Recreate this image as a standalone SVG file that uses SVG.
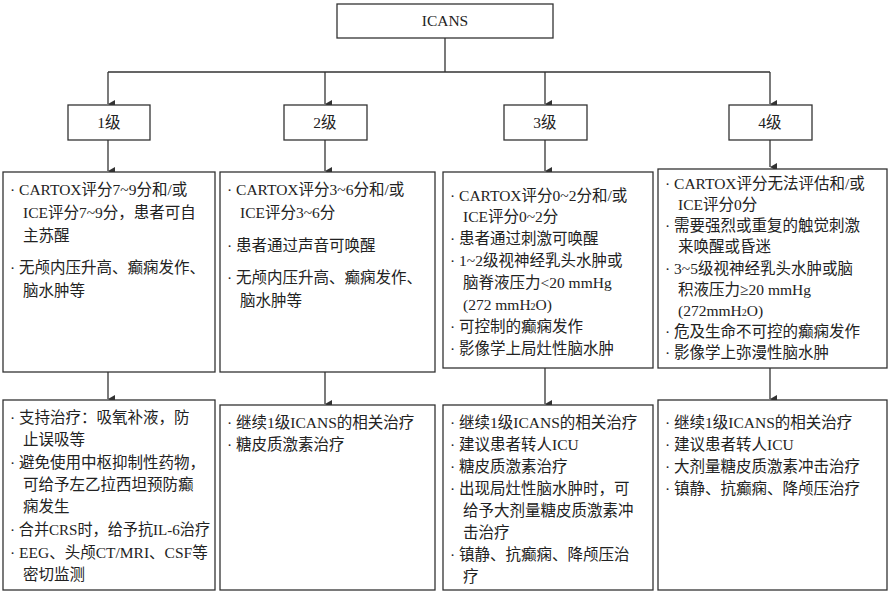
<svg xmlns="http://www.w3.org/2000/svg" width="890" height="593" viewBox="0 0 890 593">
<defs>
<style>
rect{fill:#fff;stroke:#333;stroke-width:1.3}
text{font-family:"Liberation Serif","Noto Sans CJK SC",serif;font-size:15.5px;fill:#222}
.c{text-anchor:middle}
#edges path{fill:none;stroke:#333;stroke-width:1.3}
</style>
<marker id="a" markerWidth="8" markerHeight="8" refX="4" refY="7" orient="auto" markerUnits="userSpaceOnUse"><path d="M0,0L8,0L4,7z" fill="#333"/></marker>
</defs>
<g id="edges">
<path d="M445,38V72M108,72H770"/>
<path d="M108,72V104" marker-end="url(#a)"/>
<path d="M325,72V104" marker-end="url(#a)"/>
<path d="M545,72V104" marker-end="url(#a)"/>
<path d="M770,72V104" marker-end="url(#a)"/>
<path d="M108,140V171" marker-end="url(#a)"/>
<path d="M325,140V171" marker-end="url(#a)"/>
<path d="M545,140V171" marker-end="url(#a)"/>
<path d="M770,140V167" marker-end="url(#a)"/>
<path d="M108,372V399" marker-end="url(#a)"/>
<path d="M325,372V404" marker-end="url(#a)"/>
<path d="M545,368V404" marker-end="url(#a)"/>
<path d="M770,368V399" marker-end="url(#a)"/>
</g>
<g id="icans"><rect x="337" y="4" width="216" height="34"/><text class="c" x="445" y="26">ICANS</text></g>
<g id="l1"><rect x="68" y="105" width="82" height="35"/><text class="c" x="109" y="128">1级</text></g>
<g id="l2"><rect x="284" y="105" width="83" height="35"/><text class="c" x="325" y="128">2级</text></g>
<g id="l3"><rect x="504" y="105" width="83" height="35"/><text class="c" x="545" y="128">3级</text></g>
<g id="l4"><rect x="729" y="105" width="83" height="35"/><text class="c" x="770" y="128">4级</text></g>
<g id="c1"><rect x="3" y="172" width="212" height="200"/>
<text x="10" y="195">· CARTOX评分7~9分和/或</text>
<text x="23" y="218">ICE评分7~9分，患者可自</text>
<text x="23" y="241">主苏醒</text>
<text x="10" y="273">· 无颅内压升高、癫痫发作、</text>
<text x="23" y="296">脑水肿等</text></g>
<g id="c2"><rect x="220" y="172" width="215" height="200"/>
<text x="227" y="195">· CARTOX评分3~6分和/或</text>
<text x="240" y="218">ICE评分3~6分</text>
<text x="227" y="251">· 患者通过声音可唤醒</text>
<text x="227" y="283">· 无颅内压升高、癫痫发作、</text>
<text x="240" y="306">脑水肿等</text></g>
<g id="c3"><rect x="443" y="172" width="210" height="196"/>
<text x="450" y="201">· CARTOX评分0~2分和/或</text>
<text x="463" y="222">ICE评分0~2分</text>
<text x="450" y="244">· 患者通过刺激可唤醒</text>
<text x="450" y="266">· 1~2级视神经乳头水肿或</text>
<text x="463" y="288">脑脊液压力&lt;20 mmHg</text>
<text x="463" y="310">(272 mmH<tspan font-size="10">2</tspan>O)</text>
<text x="450" y="332">· 可控制的癫痫发作</text>
<text x="450" y="354">· 影像学上局灶性脑水肿</text></g>
<g id="c4"><rect x="658" y="169" width="229" height="199"/>
<text x="665" y="189">· CARTOX评分无法评估和/或</text>
<text x="678" y="210">ICE评分0分</text>
<text x="665" y="231">· 需要强烈或重复的触觉刺激</text>
<text x="678" y="252">来唤醒或昏迷</text>
<text x="665" y="274">· 3~5级视神经乳头水肿或脑</text>
<text x="678" y="295">积液压力≥20 mmHg</text>
<text x="678" y="316">(272mmH<tspan font-size="10">2</tspan>O)</text>
<text x="665" y="337">· 危及生命不可控的癫痫发作</text>
<text x="665" y="358">· 影像学上弥漫性脑水肿</text></g>
<g id="t1"><rect x="3" y="400" width="212" height="190"/>
<text x="10" y="423">· 支持治疗：吸氧补液，防</text>
<text x="23" y="445">止误吸等</text>
<text x="10" y="468">· 避免使用中枢抑制性药物，</text>
<text x="23" y="490">可给予左乙拉西坦预防癫</text>
<text x="23" y="512">痫发生</text>
<text x="10" y="535" textLength="200" lengthAdjust="spacingAndGlyphs">· 合并CRS时，给予抗IL-6治疗</text>
<text x="10" y="558">· EEG、头颅CT/MRI、CSF等</text>
<text x="23" y="580">密切监测</text></g>
<g id="t2"><rect x="220" y="405" width="215" height="185"/>
<text x="227" y="428">· 继续1级ICANS的相关治疗</text>
<text x="227" y="450">· 糖皮质激素治疗</text></g>
<g id="t3"><rect x="443" y="405" width="210" height="185"/>
<text x="450" y="428">· 继续1级ICANS的相关治疗</text>
<text x="450" y="450">· 建议患者转人ICU</text>
<text x="450" y="472">· 糖皮质激素治疗</text>
<text x="450" y="494">· 出现局灶性脑水肿时，可</text>
<text x="463" y="516">给予大剂量糖皮质激素冲</text>
<text x="463" y="538">击治疗</text>
<text x="450" y="560">· 镇静、抗癫痫、降颅压治</text>
<text x="463" y="582">疗</text></g>
<g id="t4"><rect x="658" y="400" width="229" height="190"/>
<text x="665" y="428">· 继续1级ICANS的相关治疗</text>
<text x="665" y="450">· 建议患者转人ICU</text>
<text x="665" y="472">· 大剂量糖皮质激素冲击治疗</text>
<text x="665" y="494">· 镇静、抗癫痫、降颅压治疗</text></g>
</svg>
